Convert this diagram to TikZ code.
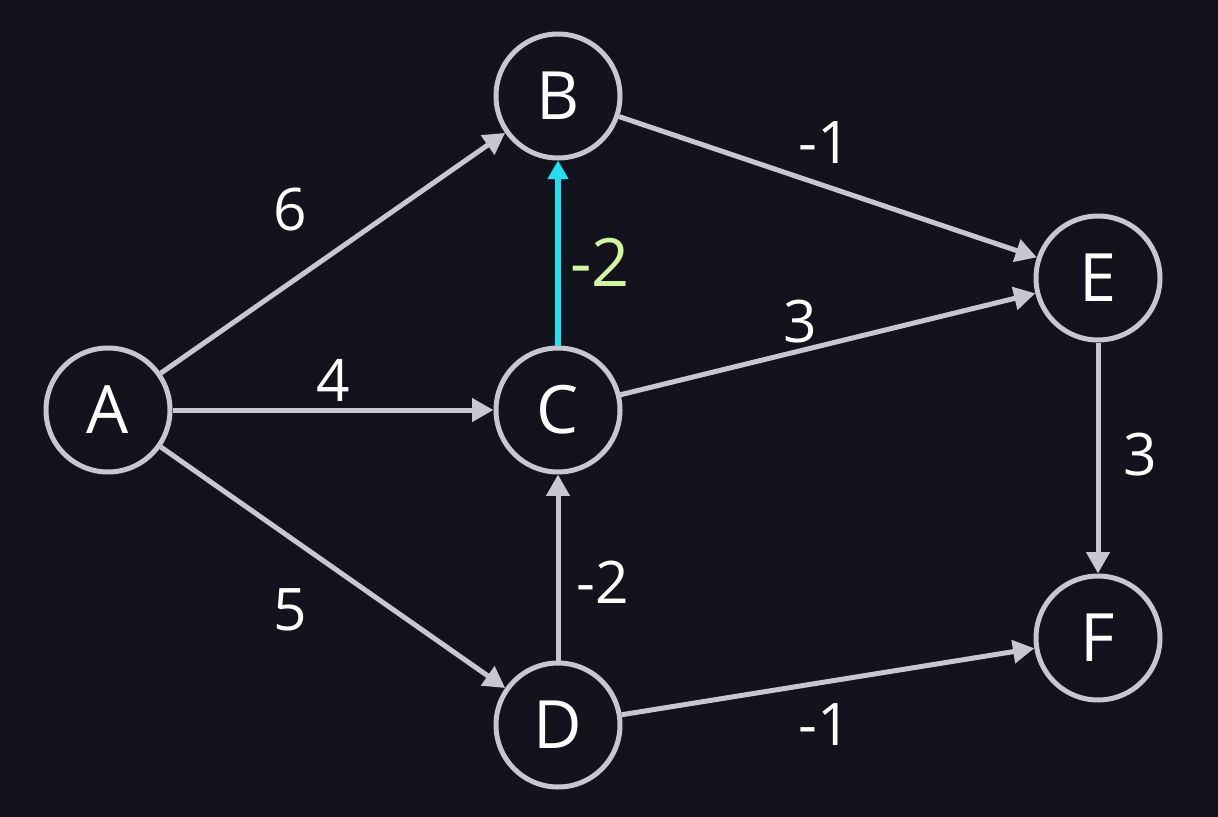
\documentclass[tikz,border=0pt]{standalone}
\usepackage{fontspec}
\setmainfont{Open Sans}
\usetikzlibrary{arrows.meta}
\definecolor{bg}{HTML}{12131C}
\definecolor{edge}{HTML}{C8C6CE}
\definecolor{hl}{HTML}{22E0F0}
\definecolor{hltext}{HTML}{D4F5A0}
\begin{document}
\begin{tikzpicture}[x=0.75pt,y=-0.75pt,
  vert/.style={circle,draw=edge,fill=bg,line width=3.75pt,minimum size=93pt,inner sep=0pt,text=white,font=\fontsize{50}{54}\selectfont},
  wedge/.style={draw=edge,line width=3.75pt,-{Triangle[length=16pt,width=17pt]}},
  lbl/.style={text=white,font=\fontsize{44}{48}\selectfont}]
\fill[bg] (0,0) rectangle (1218,817);
\useasboundingbox (0,0) rectangle (1218,817);
\node[vert] (A) at (108,410) {A};
\node[vert] (B) at (558,96) {B};
\node[vert] (C) at (558,410) {C};
\node[vert] (D) at (558,725) {D};
\node[vert] (E) at (1098,278) {E};
\node[vert] (F) at (1098,638) {F};
\draw[wedge] (A) -- (B);
\draw[wedge] (A) -- (C);
\draw[wedge] (A) -- (D);
\draw[wedge,draw=hl,line width=4.8pt,-{Triangle[length=14pt,width=15pt]}] (C) -- (B);
\draw[wedge] (B) -- (E);
\draw[wedge] (C) -- (E);
\draw[wedge] (D) -- (C);
\draw[wedge] (D) -- (F);
\draw[wedge] (E) -- (F);
\node[lbl] (l1) at (290,210) {6};
\node[lbl] (l2) at (333,380) {4};
\node[lbl] (l3) at (290,610) {5};
\node[lbl,text=hltext,font=\fontsize{50}{54}\selectfont] (l4) at (600,262) {-2};
\node[lbl] (l5) at (825,143) {-1};
\node[lbl] (l6) at (800,322) {3};
\node[lbl] (l7) at (1140,455) {3};
\node[lbl] (l8) at (603,582) {-2};
\node[lbl] (l9) at (825,725) {-1};
\end{tikzpicture}
\end{document}
